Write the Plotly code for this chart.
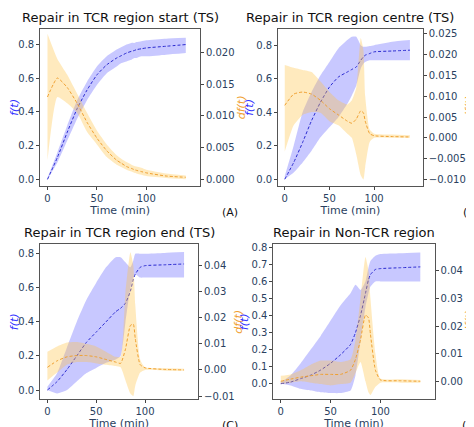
import plotly.graph_objects as go

T = [0, 10, 20, 30, 40, 50, 60, 70, 75, 80, 85, 88, 90, 95, 100, 120, 140]

titles = ["Repair in TCR region start (TS)", "Repair in TCR region centre (TS)",
          "Repair in TCR region end (TS)", "Repair in Non-TCR region"]
tags = ["(A)", "(B)", "(C)", "(D)"]

# f(t) mean / lower / upper, df(t) mean / lower / upper
a_f = [0, 0.13, 0.28, 0.42, 0.53, 0.62, 0.68, 0.72, 0.735, 0.75, 0.76, 0.765, 0.77, 0.775, 0.78, 0.79, 0.80]
a_f_lo = [0, 0.1, 0.23, 0.36, 0.47, 0.56, 0.63, 0.67, 0.69, 0.70, 0.71, 0.72, 0.72, 0.73, 0.73, 0.74, 0.75]
a_f_hi = [0.01, 0.16, 0.32, 0.47, 0.58, 0.67, 0.73, 0.77, 0.785, 0.80, 0.81, 0.81, 0.815, 0.82, 0.825, 0.835, 0.84]
a_df = [0.013, 0.016, 0.0145, 0.012, 0.009, 0.0065, 0.0045, 0.003, 0.0025, 0.002, 0.0017, 0.0015, 0.0014, 0.0012, 0.001, 0.0005, 0.0003]
a_df_lo = [0.003, 0.013, 0.012, 0.0105, 0.0075, 0.0055, 0.0035, 0.0023, 0.0019, 0.0015, 0.0012, 0.001, 0.0009, 0.0007, 0.0005, 0.0002, 0]
a_df_hi = [0.023, 0.019, 0.0165, 0.0135, 0.0105, 0.0077, 0.0055, 0.0038, 0.0032, 0.0027, 0.0023, 0.0021, 0.002, 0.0018, 0.0015, 0.0009, 0.0006]

b_f = [0, 0.1, 0.22, 0.35, 0.46, 0.55, 0.61, 0.64, 0.655, 0.67, 0.71, 0.73, 0.74, 0.75, 0.76, 0.765, 0.77]
b_f_lo = [0, 0.04, 0.1, 0.17, 0.25, 0.31, 0.37, 0.45, 0.5, 0.56, 0.66, 0.69, 0.7, 0.71, 0.71, 0.71, 0.71]
b_f_hi = [0.02, 0.2, 0.4, 0.52, 0.62, 0.7, 0.78, 0.83, 0.85, 0.85, 0.8, 0.79, 0.79, 0.795, 0.8, 0.82, 0.83]
b_df = [0.0078, 0.0105, 0.011, 0.0105, 0.009, 0.007, 0.0055, 0.004, 0.0035, 0.0045, 0.0065, 0.006, 0.004, 0.001, 0.0005, 0.0003, 0.0002]
b_df_lo = [-0.0033, 0.003, 0.0055, 0.0062, 0.006, 0.004, 0.003, 0.001, 0.0, -0.004, -0.009, -0.01, -0.007, -0.001, 0, 0, 0]
b_df_hi = [0.0175, 0.0168, 0.0163, 0.0158, 0.0135, 0.011, 0.009, 0.008, 0.009, 0.012, 0.024, 0.021, 0.01, 0.002, 0.001, 0.0008, 0.0006]

c_f = [0, 0.05, 0.12, 0.2, 0.28, 0.34, 0.4, 0.46, 0.48, 0.51, 0.58, 0.65, 0.68, 0.72, 0.73, 0.735, 0.74]
c_f_lo = [0, -0.02, 0, 0.05, 0.1, 0.13, 0.16, 0.18, 0.2, 0.4, 0.6, 0.66, 0.68, 0.66, 0.66, 0.66, 0.66]
c_f_hi = [0.02, 0.1, 0.25, 0.4, 0.53, 0.63, 0.72, 0.78, 0.78, 0.75, 0.72, 0.76, 0.8, 0.8, 0.8, 0.805, 0.81]
c_df = [0.001, 0.0035, 0.005, 0.0055, 0.0055, 0.005, 0.004, 0.003, 0.0025, 0.008, 0.017, 0.0175, 0.012, 0.002, 0.0008, 0.0002, 0]
c_df_lo = [-0.004, -0.001, 0.002, 0.003, 0.003, 0.0025, 0.002, 0.0015, 0.001, -0.004, -0.009, -0.01, -0.006, -0.001, 0, -0.0003, -0.0003]
c_df_hi = [0.007, 0.009, 0.0105, 0.0107, 0.01, 0.009, 0.007, 0.005, 0.005, 0.03, 0.045, 0.04, 0.025, 0.004, 0.001, 0.0006, 0.0005]

d_f = [0, 0.01, 0.03, 0.05, 0.08, 0.12, 0.17, 0.23, 0.3, 0.4, 0.53, 0.61, 0.64, 0.67, 0.675, 0.68, 0.685]
d_f_lo = [0, -0.01, -0.03, -0.04, -0.05, -0.055, -0.055, -0.04, 0.05, 0.25, 0.45, 0.53, 0.57, 0.6, 0.6, 0.6, 0.6]
d_f_hi = [0.01, 0.05, 0.12, 0.2, 0.28, 0.37, 0.46, 0.53, 0.58, 0.55, 0.6, 0.68, 0.72, 0.75, 0.76, 0.765, 0.77]
d_df = [0, 0.0008, 0.0015, 0.002, 0.0025, 0.0025, 0.0025, 0.004, 0.008, 0.015, 0.024, 0.023, 0.017, 0.004, 0.0005, 0.0002, 0]
d_df_lo = [-0.001, -0.0005, 0, -0.0005, -0.001, -0.0015, -0.001, -0.0005, 0.003, 0.007, 0.0, -0.004, -0.005, -0.002, -0.0005, -0.0005, -0.0005]
d_df_hi = [0.002, 0.0025, 0.004, 0.006, 0.0075, 0.0075, 0.007, 0.008, 0.015, 0.03, 0.045, 0.04, 0.03, 0.01, 0.001, 0.0007, 0.0005]

panels = [
    (a_f, a_f_lo, a_f_hi, a_df, a_df_lo, a_df_hi),
    (b_f, b_f_lo, b_f_hi, b_df, b_df_lo, b_df_hi),
    (c_f, c_f_lo, c_f_hi, c_df, c_df_lo, c_df_hi),
    (d_f, d_f_lo, d_f_hi, d_df, d_df_lo, d_df_hi),
]

# layout in paper fractions (x0, x1, y0, y1)
domains = [(0.068, 0.405, 0.585, 0.958), (0.57, 0.875, 0.585, 0.958),
           (0.068, 0.401, 0.08, 0.447), (0.56, 0.9, 0.08, 0.447)]
left_ranges = [[-0.04, 0.894], [-0.041, 0.898], [-0.054, 0.855], [-0.091, 0.817]]
right_ranges = [[-0.0011, 0.0238], [-0.0116, 0.0262], [-0.0112, 0.048], [-0.0065, 0.0496]]
left_ticks = [[0, 0.2, 0.4, 0.6, 0.8]] * 3 + [[0, 0.1, 0.2, 0.3, 0.4, 0.5, 0.6, 0.7, 0.8]]
right_ticks = [[0, 0.005, 0.01, 0.015, 0.02],
               [-0.01, -0.005, 0, 0.005, 0.01, 0.015, 0.02, 0.025],
               [-0.01, 0, 0.01, 0.02, 0.03, 0.04],
               [0, 0.01, 0.02, 0.03, 0.04]]
right_fmt = [".3f", ".3f", ".2f", ".2f"]

BLUE_BAND = "rgba(110,110,255,0.38)"
ORANGE_BAND = "rgba(255,195,70,0.35)"
BLUE = "#2a2ad0"
ORANGE = "#f0a030"
FONT = "DejaVu Sans"
LINE = dict(width=0, shape="spline", smoothing=0.5)

fig = go.Figure()
layout = {}
annotations = []
for i, (f, flo, fhi, df, dlo, dhi) in enumerate(panels):
    n = i + 1
    xa = "x" if n == 1 else f"x{n}"
    yl = "y" if n == 1 else f"y{2 * n - 1}"
    yr = f"y{2 * n}"
    for ys, lo, hi, mean, band, col in [(yl, flo, fhi, f, BLUE_BAND, BLUE),
                                         (yr, dlo, dhi, df, ORANGE_BAND, ORANGE)]:
        fig.add_trace(go.Scatter(x=T, y=lo, xaxis=xa, yaxis=ys, mode="lines", line=LINE,
                                 showlegend=False, hoverinfo="skip"))
        fig.add_trace(go.Scatter(x=T, y=hi, xaxis=xa, yaxis=ys, mode="lines",
                                 fill="tonexty", fillcolor=band, line=LINE,
                                 showlegend=False, hoverinfo="skip"))
        fig.add_trace(go.Scatter(x=T, y=mean, xaxis=xa, yaxis=ys, mode="lines",
                                 line=dict(color=col, width=1, dash="3px,2px", shape="spline", smoothing=0.5),
                                 showlegend=False))
    x0, x1, y0, y1 = domains[i]
    layout["xaxis" if n == 1 else f"xaxis{n}"] = dict(
        domain=[x0, x1], anchor=yl, range=[-7.35, 154.35], tickvals=[0, 50, 100],
        showline=True, mirror=True, linecolor="#555", ticks="outside", ticklen=3,
        showgrid=False, zeroline=False, tickfont=dict(size=10, family=FONT),
        title=dict(text="Time (min)", font=dict(size=11, family=FONT), standoff=0))
    layout["yaxis" if n == 1 else f"yaxis{2 * n - 1}"] = dict(
        domain=[y0, y1], anchor=xa, range=left_ranges[i], tickvals=left_ticks[i],
        tickformat=".1f", showline=True, linecolor="#555", ticks="outside", ticklen=3,
        showgrid=False, zeroline=False, tickfont=dict(size=10, family=FONT),
        title=dict(text="<i>f(t)</i>", font=dict(size=11, color="#3333ff", family=FONT), standoff=0))
    layout[f"yaxis{2 * n}"] = dict(
        overlaying=yl, anchor=xa, side="right",
        range=right_ranges[i], tickvals=right_ticks[i], tickformat=right_fmt[i],
        showline=True, linecolor="#555", ticks="outside", ticklen=3,
        showgrid=False, zeroline=False, tickfont=dict(size=10, family=FONT),
        title=dict(text="<i>df(t)</i>", font=dict(size=11, color=ORANGE, family=FONT), standoff=0))
    annotations.append(dict(text=titles[i], x=(x0 + x1) / 2, y=y1 + 0.005, xref="paper", yref="paper",
                            xanchor="center", yanchor="bottom", showarrow=False,
                            font=dict(size=13, family=FONT, color="#111")))
    annotations.append(dict(text=tags[i], x=(0.49 if n % 2 else 0.998), y=y0 - 0.063,
                            xref="paper", yref="paper", xanchor="right", yanchor="middle",
                            showarrow=False, font=dict(size=11, family=FONT, color="#111")))

fig.update_layout(**layout)
fig.update_layout(width=474, height=427, margin=dict(l=0, r=0, t=0, b=0),
                  plot_bgcolor="white", paper_bgcolor="white", annotations=annotations)
fig.write_html("out.html")
